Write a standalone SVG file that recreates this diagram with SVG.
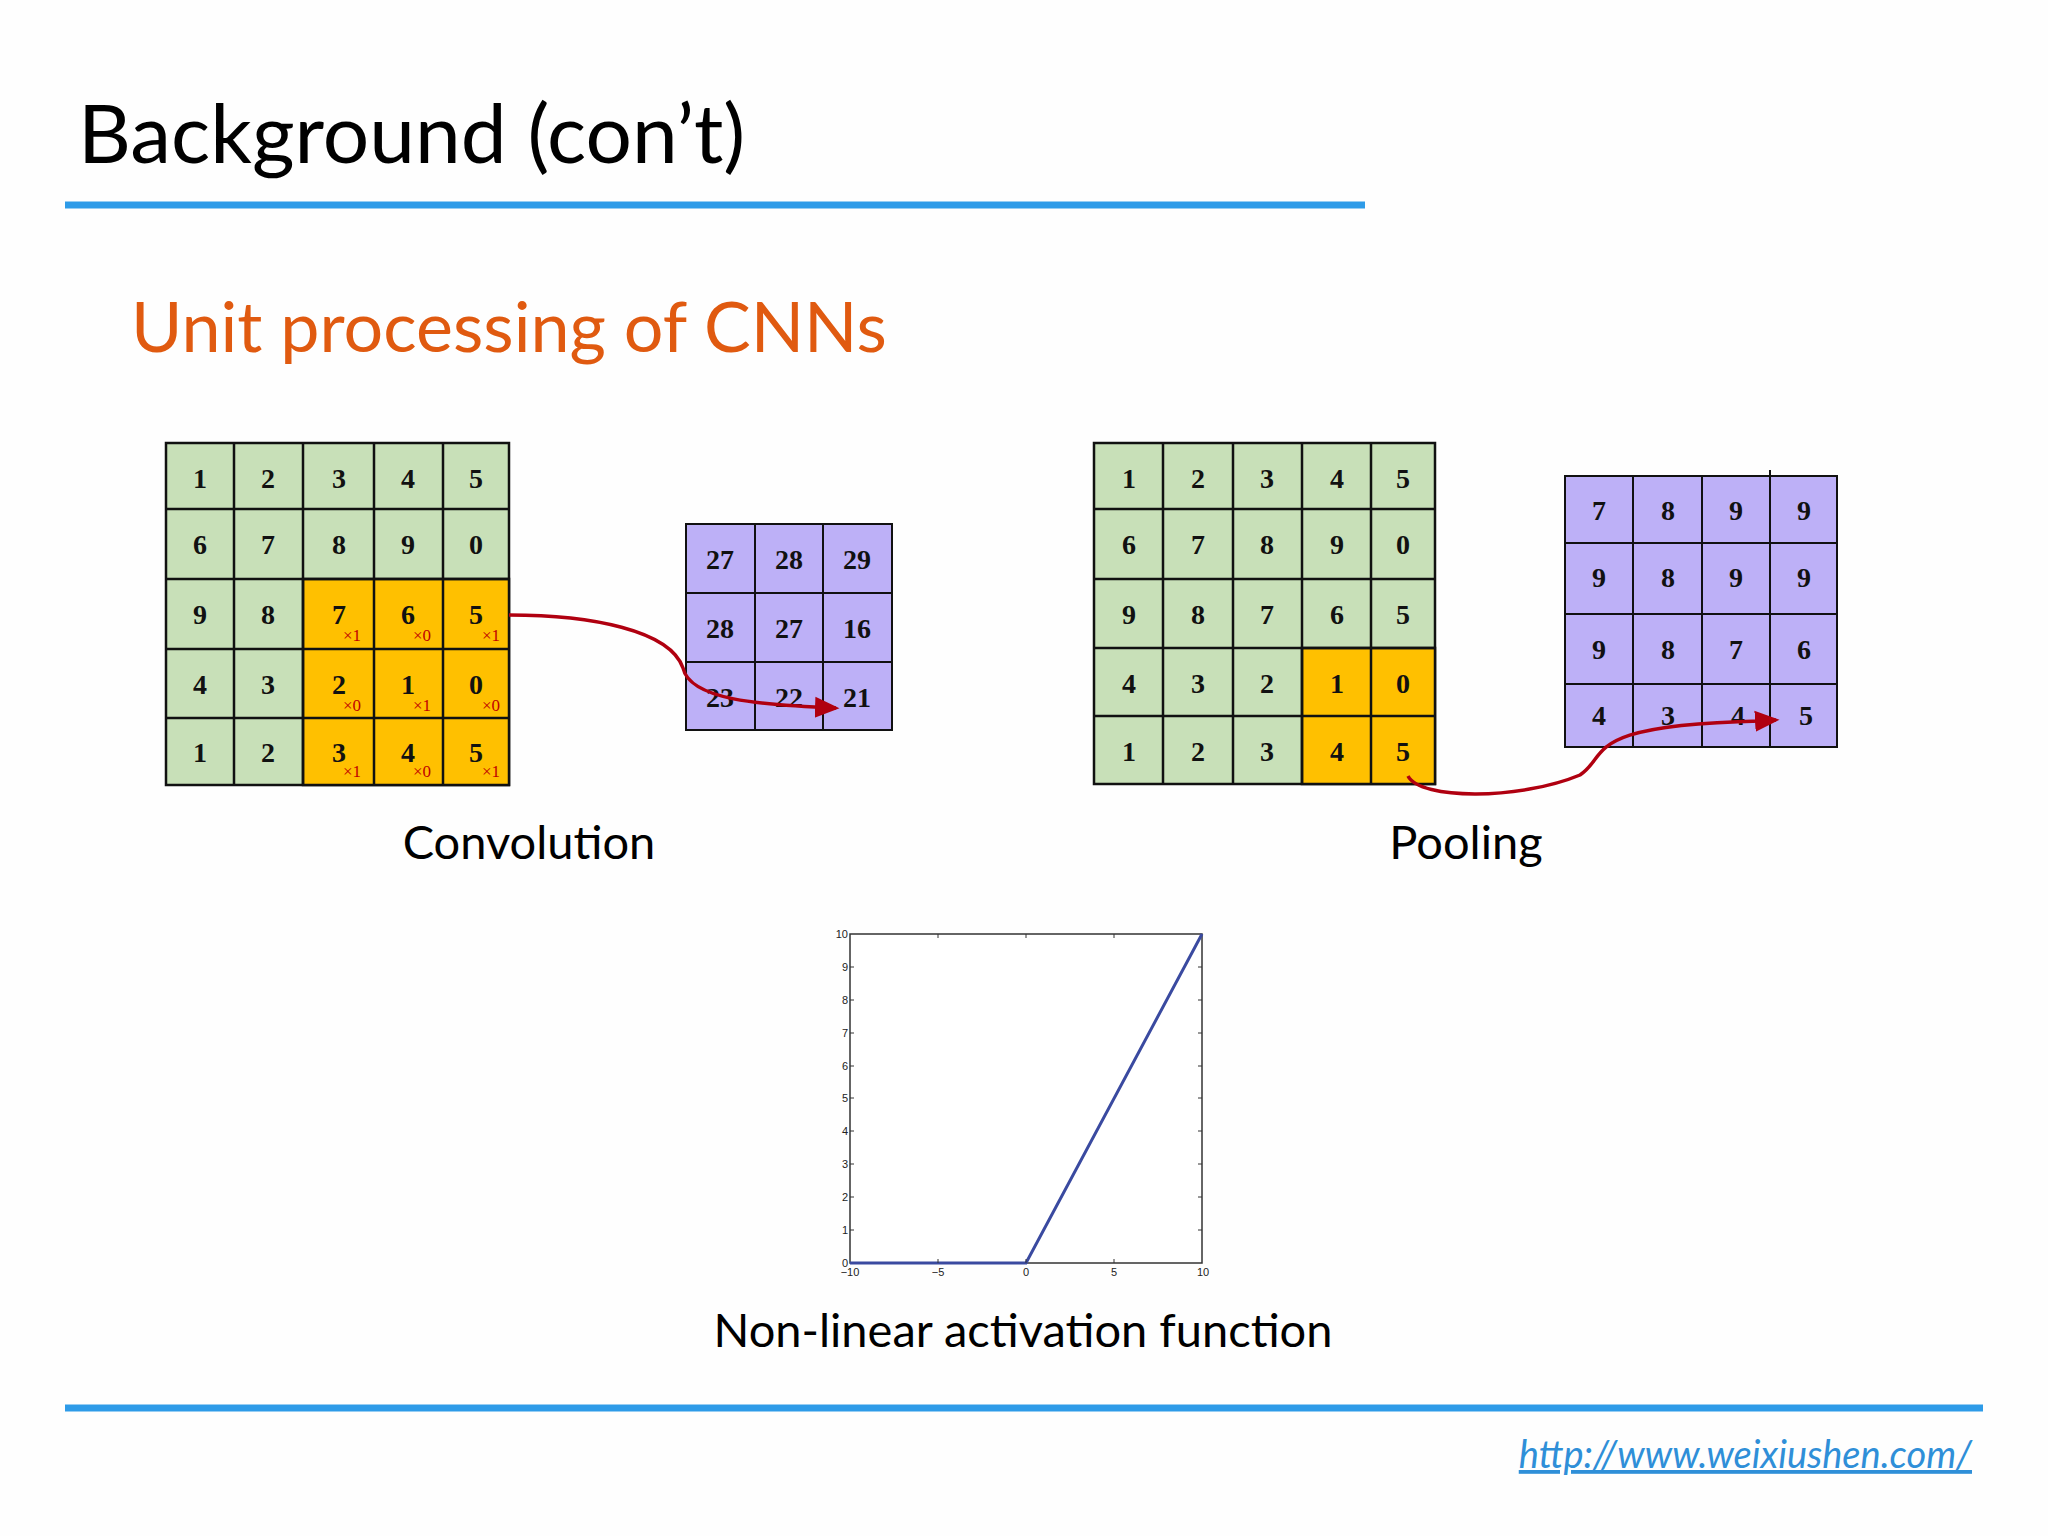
<svg xmlns="http://www.w3.org/2000/svg" width="2048" height="1536" viewBox="0 0 2048 1536">
<style>
.g{fill:#c8e0b8;stroke:#111;stroke-width:2.5}
.o{fill:#ffc000;stroke:#111;stroke-width:2.5}
.p{fill:#bdb0f7;stroke:#111;stroke-width:2}
.n{font-family:"Liberation Serif",serif;font-weight:bold;font-size:28px;text-anchor:middle;fill:#111}
.m{font-family:"Liberation Serif",serif;font-size:17px;fill:#c00000}
.lab{font-family:Lato,"Open Sans",sans-serif;font-size:47px;text-anchor:middle;fill:#000}
.t{font-family:"Liberation Sans",sans-serif;font-size:11px;fill:#222}
.c{fill:none;stroke:#b00010;stroke-width:3.5}
</style>
<defs><marker id="ah" markerWidth="8" markerHeight="8" refX="6" refY="4" orient="auto" markerUnits="strokeWidth"><path d="M0,1 L7,4 L0,7 z" fill="#b00010"/></marker></defs>
<rect width="2048" height="1536" fill="#fefefe"/>
<g id="title"><text x="78" y="163" font-family="Lato,'Open Sans',sans-serif" font-size="82" fill="#000">Background (con’t)</text>
<line x1="65" y1="205" x2="1365" y2="205" stroke="#2e9be8" stroke-width="7"/></g>
<g id="subtitle"><text x="131" y="352" font-family="Lato,'Open Sans',sans-serif" font-size="70" fill="#e05a10">Unit processing of CNNs</text></g>
<g id="conv-input">
<rect class="g" x="166" y="443" width="343" height="342"/>
<rect class="o" x="303" y="579" width="206" height="206"/>
<path d="M234,443V785M303,443V785M374,443V785M443,443V785M166,509H509M166,579H509M166,649H509M166,718H509" stroke="#111" stroke-width="2.5"/>
<g class="n">
<text x="200" y="488">1</text><text x="268" y="488">2</text><text x="339" y="488">3</text><text x="408" y="488">4</text><text x="476" y="488">5</text>
<text x="200" y="554">6</text><text x="268" y="554">7</text><text x="339" y="554">8</text><text x="408" y="554">9</text><text x="476" y="554">0</text>
<text x="200" y="624">9</text><text x="268" y="624">8</text><text x="339" y="624">7</text><text x="408" y="624">6</text><text x="476" y="624">5</text>
<text x="200" y="694">4</text><text x="268" y="694">3</text><text x="339" y="694">2</text><text x="408" y="694">1</text><text x="476" y="694">0</text>
<text x="200" y="762">1</text><text x="268" y="762">2</text><text x="339" y="762">3</text><text x="408" y="762">4</text><text x="476" y="762">5</text>
</g>
<g class="m">
<text x="343" y="641">×1</text><text x="413" y="641">×0</text><text x="482" y="641">×1</text>
<text x="343" y="711">×0</text><text x="413" y="711">×1</text><text x="482" y="711">×0</text>
<text x="343" y="777">×1</text><text x="413" y="777">×0</text><text x="482" y="777">×1</text>
</g></g>
<g id="conv-output">
<rect class="p" x="686" y="524" width="206" height="206"/>
<path d="M755,524V730M823,524V730M686,593H892M686,662H892" stroke="#111" stroke-width="2"/>
<g class="n">
<text x="720" y="569">27</text><text x="789" y="569">28</text><text x="857" y="569">29</text>
<text x="720" y="638">28</text><text x="789" y="638">27</text><text x="857" y="638">16</text>
<text x="720" y="707">23</text><text x="789" y="707">22</text><text x="857" y="707">21</text>
</g></g>
<g id="pool-input">
<rect class="g" x="1094" y="443" width="341" height="341"/>
<rect class="o" x="1302" y="648" width="133" height="136"/>
<path d="M1163,443V784M1233,443V784M1302,443V784M1371,443V784M1094,509H1435M1094,579H1435M1094,648H1435M1094,716H1435" stroke="#111" stroke-width="2.5"/>
<g class="n">
<text x="1129" y="488">1</text><text x="1198" y="488">2</text><text x="1267" y="488">3</text><text x="1337" y="488">4</text><text x="1403" y="488">5</text>
<text x="1129" y="554">6</text><text x="1198" y="554">7</text><text x="1267" y="554">8</text><text x="1337" y="554">9</text><text x="1403" y="554">0</text>
<text x="1129" y="624">9</text><text x="1198" y="624">8</text><text x="1267" y="624">7</text><text x="1337" y="624">6</text><text x="1403" y="624">5</text>
<text x="1129" y="693">4</text><text x="1198" y="693">3</text><text x="1267" y="693">2</text><text x="1337" y="693">1</text><text x="1403" y="693">0</text>
<text x="1129" y="761">1</text><text x="1198" y="761">2</text><text x="1267" y="761">3</text><text x="1337" y="761">4</text><text x="1403" y="761">5</text>
</g></g>
<g id="pool-output">
<rect class="p" x="1565" y="476" width="272" height="271"/>
<path d="M1633,476V747M1702,476V747M1770,470V747M1565,543H1837M1565,614H1837M1565,684H1837" stroke="#111" stroke-width="2"/>
<g class="n">
<text x="1599" y="520">7</text><text x="1668" y="520">8</text><text x="1736" y="520">9</text><text x="1804" y="520">9</text>
<text x="1599" y="587">9</text><text x="1668" y="587">8</text><text x="1736" y="587">9</text><text x="1804" y="587">9</text>
<text x="1599" y="659">9</text><text x="1668" y="659">8</text><text x="1736" y="659">7</text><text x="1804" y="659">6</text>
<text x="1599" y="725">4</text><text x="1668" y="725">3</text><text x="1738" y="725">4</text><text x="1806" y="725">5</text>
</g></g>
<g id="connectors">
<path class="c" marker-end="url(#ah)" d="M509,615 C590,615 670,630 683,668 C690,700 760,705 836,708"/>
<path class="c" marker-end="url(#ah)" d="M1408,776 C1420,800 1520,800 1580,775 C1610,755 1580,725 1760,721 L1776,720"/>
</g>
<g id="plot">
<rect x="850" y="934" width="352" height="329" fill="#fff" stroke="#333" stroke-width="1.5"/>
<path d="M850,1263H1026L1202,934" fill="none" stroke="#3a4aa0" stroke-width="3"/>
<path d="M938,934v4M1026,934v4M1114,934v4M938,1263v-4M1026,1263v-4M1114,1263v-4M850,1230h4M850,1197h4M850,1164h4M850,1131h4M850,1098h4M850,1066h4M850,1033h4M850,1000h4M850,967h4M1202,1230h-4M1202,1197h-4M1202,1164h-4M1202,1131h-4M1202,1098h-4M1202,1066h-4M1202,1033h-4M1202,1000h-4M1202,967h-4" stroke="#333" stroke-width="1"/>
<g class="t" text-anchor="end">
<text x="848" y="1267">0</text><text x="848" y="1234">1</text><text x="848" y="1201">2</text><text x="848" y="1168">3</text><text x="848" y="1135">4</text><text x="848" y="1102">5</text><text x="848" y="1070">6</text><text x="848" y="1037">7</text><text x="848" y="1004">8</text><text x="848" y="971">9</text><text x="848" y="938">10</text>
</g>
<g class="t" text-anchor="middle">
<text x="850" y="1276">−10</text><text x="938" y="1276">−5</text><text x="1026" y="1276">0</text><text x="1114" y="1276">5</text><text x="1203" y="1276">10</text>
</g></g>
<g id="labels">
<text class="lab" x="529" y="859">Convolution</text>
<text class="lab" x="1466" y="859">Pooling</text>
<text class="lab" x="1023" y="1347">Non-linear activation function</text>
</g>
<g id="footer"><line x1="65" y1="1408" x2="1983" y2="1408" stroke="#2e9be8" stroke-width="7"/>
<text x="1972" y="1468" text-anchor="end" font-family="Lato,'Open Sans',sans-serif" font-style="italic" font-size="38" fill="#2f8fd8" text-decoration="underline">http://www.weixiushen.com/</text></g>
</svg>
